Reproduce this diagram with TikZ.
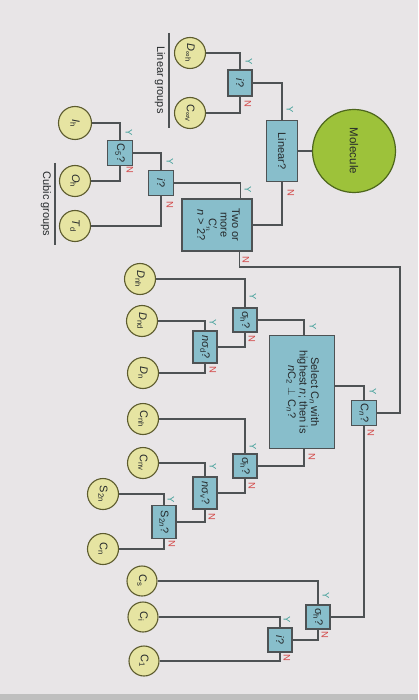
\documentclass[tikz,border=0pt]{standalone}
\usepackage{fontspec}
\setmainfont{Liberation Sans}
\usepackage{graphicx}
\usetikzlibrary{calc}
\definecolor{bg}{HTML}{E8E5E7}
\definecolor{boxblue}{HTML}{88BECB}
\definecolor{edge}{HTML}{4E5254}
\definecolor{circ}{HTML}{E6E4A2}
\definecolor{olivedark}{HTML}{5C5B2E}
\definecolor{molgreen}{HTML}{9DC23A}
\definecolor{molborder}{HTML}{4D661C}
\definecolor{ycol}{HTML}{3E9E98}
\definecolor{ncol}{HTML}{D24848}
\definecolor{txt}{HTML}{25292B}
\newcommand{\rt}[1]{\rotatebox{-90}{#1}}
\newcommand{\ml}[1]{\rotatebox{-90}{\renewcommand{\arraystretch}{0.92}\begin{tabular}{@{}c@{}}#1\end{tabular}}}
\newcommand{\sbx}[1]{\textsubscript{#1}}
\begin{document}
\begin{tikzpicture}[x=1pt,y=-1pt,
  q/.style={draw=edge, fill=boxblue, line width=1.1pt, inner sep=0pt, text=txt, font=\fontsize{11}{12.5}\selectfont},
  grp/.style={circle, draw=olivedark, fill=circ, line width=1.1pt, minimum size=31pt, inner sep=0pt, text=txt, font=\fontsize{11}{12}\selectfont},
  conn/.style={draw=edge, line width=1.2pt},
  yl/.style={text=ycol, font=\fontsize{9.5}{10}\selectfont, rotate=-90, inner sep=0pt},
  nl/.style={text=ncol, font=\fontsize{9.5}{10}\selectfont, rotate=-90, inner sep=0pt},
  glab/.style={text=txt, font=\fontsize{11}{12}\selectfont, rotate=-90, inner sep=0pt}]
\fill[bg] (0,0) rectangle (418,700);
\fill[black!25] (0,694) rectangle (418,700);
\useasboundingbox (0,0) rectangle (418,700);

% nodes
\node[circle, draw=molborder, fill=molgreen, line width=1.2pt, minimum size=83pt, inner sep=0pt, text=txt, font=\fontsize{11.5}{13}\selectfont] (mol) at (354,151) {\rt{Molecule}};
\node[q, minimum width=31pt, minimum height=61pt] (lin) at (282,151) {\rt{Linear?}};
\node[q, minimum width=24pt, minimum height=26pt] (ilin) at (240,83) {\rt{\textit{i}?}};
\node[grp] (dinfh) at (190,53) {\rt{\textit{D}\sbx{∞h}}};
\node[grp] (cinfv) at (190,113) {\rt{C\sbx{∞v}}};
\node[q, minimum width=70pt, minimum height=52pt] (two) at (217,225) {\ml{Two or\\more\\C$'_{n}$\\\textit{n} > 2?}};
\node[q, minimum size=25pt] (icub) at (161,183) {\rt{\textit{i}?}};
\node[q, minimum size=25pt] (c5) at (120,153) {\rt{C\sbx{5}?}};
\node[grp, minimum size=33pt] (ih) at (75,123) {\rt{\textit{I}\sbx{h}}};
\node[grp] (oh) at (75,181) {\rt{\textit{O}\sbx{h}}};
\node[grp] (td) at (75,226) {\rt{\textit{T}\sbx{d}}};
\node[q, minimum size=25pt] (cnq) at (364,413) {\rt{C\sbx{\textit{n}}?}};
\node[q, minimum width=65pt, minimum height=113pt] (sel) at (302,392) {\ml{Select C\sbx{\textit{n}} with\\highest \textit{n}; then is\\\textit{n}C\sbx{2} $\perp$ C\sbx{\textit{n}}?}};
\node[q, minimum size=24pt] (sigd) at (245,320) {\rt{σ\sbx{h}?}};
\node[q, minimum width=24pt, minimum height=32pt] (nsd) at (205,347) {\rt{\textit{n}σ\sbx{d}?}};
\node[grp] (dnh) at (140,279) {\rt{\textit{D}\sbx{nh}}};
\node[grp] (dnd) at (142,321) {\rt{\textit{D}\sbx{nd}}};
\node[grp] (dn) at (143,373) {\rt{\textit{D}\sbx{n}}};
\node[q, minimum size=24pt] (sigc) at (245,466) {\rt{σ\sbx{h}?}};
\node[q, minimum width=24pt, minimum height=32pt] (nsv) at (205,493) {\rt{\textit{n}σ\sbx{v}?}};
\node[grp] (cnh) at (143,419) {\rt{C\sbx{nh}}};
\node[grp] (cnv) at (143,463) {\rt{C\sbx{nv}}};
\node[q, minimum width=24pt, minimum height=33pt] (s2nq) at (164,522) {\rt{S\sbx{2\textit{n}}?}};
\node[grp] (s2n) at (103,494) {\rt{S\sbx{2n}}};
\node[grp] (cn) at (103,549) {\rt{C\sbx{n}}};
\node[q, minimum size=24pt] (sigl) at (318,617) {\rt{σ\sbx{h}?}};
\node[q, minimum size=24pt] (il) at (280,640) {\rt{\textit{i}?}};
\node[grp, minimum size=30pt] (cs) at (142,581) {\rt{C\sbx{s}}};
\node[grp, minimum size=30pt] (ci) at (143,617) {\rt{C\sbx{i}}};
\node[grp, minimum size=30pt] (c1) at (144,661) {\rt{C\sbx{1}}};

% group labels
\node[glab] (lgl) at (160,80) {Linear groups};
\coordinate (lgA) at (169,33); \coordinate (lgB) at (169,128);
\draw[conn] (lgA) -- (lgB);
\node[glab] (cgl) at (46,204) {Cubic groups};
\coordinate (cgA) at (55,163); \coordinate (cgB) at (55,245);
\draw[conn] (cgA) -- (cgB);

% connectors
\draw[conn] (mol) -- (lin);
\draw[conn] (lin.north) |- (ilin);
\draw[conn] (ilin.north) |- (dinfh);
\draw[conn] (ilin.south) |- (cinfv);
\draw[conn] (lin.south) |- (two);
\draw[conn] ($(two.north east)+(-12,0)$) |- (icub);
\draw[conn] (icub.north) |- (c5);
\draw[conn] (icub.south) |- (td);
\draw[conn] (c5.north) |- (ih);
\draw[conn] (c5.south) |- (oh);
\coordinate (bend) at (400,267);
\draw[conn] ($(two.south east)+(-13,0)$) |- (bend) |- (cnq);
\draw[conn] (cnq.north) |- ($(sel.east)+(0,-6)$);
\draw[conn] ($(sel.north)+(2,0)$) |- (sigd);
\draw[conn] ($(sel.south)+(2,0)$) |- (sigc);
\draw[conn] (sigd.north) |- (dnh);
\draw[conn] (sigd.south) |- (nsd);
\draw[conn] (nsd.north) |- (dnd);
\draw[conn] (nsd.south) |- (dn);
\draw[conn] (sigc.north) |- (cnh);
\draw[conn] (sigc.south) |- (nsv);
\draw[conn] (nsv.north) |- (cnv);
\draw[conn] (nsv.south) |- (s2nq);
\draw[conn] (s2nq.north) |- (s2n);
\draw[conn] (s2nq.south) |- (cn);
\draw[conn] (cnq.south) |- (sigl);
\draw[conn] (sigl.north) |- (cs);
\draw[conn] (sigl.south) |- (il);
\draw[conn] (il.north) |- (ci);
\draw[conn] (il.south) |- (c1);

% Y / N labels
\node[yl] (y1) at (290,110) {Y};  \node[nl] (n1) at (291,193) {N};
\node[yl] (y2) at (249,62) {Y};   \node[nl] (n2) at (248,104) {N};
\node[yl] (y3) at (248,190) {Y};  \node[nl] (n3) at (246,260) {N};
\node[yl] (y4) at (170,162) {Y};  \node[nl] (n4) at (170,205) {N};
\node[yl] (y5) at (129,133) {Y};  \node[nl] (n5) at (130,170) {N};
\node[yl] (y6) at (373,392) {Y};  \node[nl] (n6) at (371,433) {N};
\node[yl] (y7) at (313,327) {Y};  \node[nl] (n7) at (312,457) {N};
\node[yl] (y8) at (253,297) {Y};  \node[nl] (n8) at (252,339) {N};
\node[yl] (y9) at (213,323) {Y};  \node[nl] (n9) at (213,370) {N};
\node[yl] (y10) at (253,447) {Y}; \node[nl] (n10) at (252,486) {N};
\node[yl] (y11) at (213,467) {Y}; \node[nl] (n11) at (212,517) {N};
\node[yl] (y12) at (171,500) {Y}; \node[nl] (n12) at (172,544) {N};
\node[yl] (y13) at (326,596) {Y}; \node[nl] (n13) at (325,635) {N};
\node[yl] (y14) at (287,620) {Y}; \node[nl] (n14) at (287,658) {N};
\end{tikzpicture}
\end{document}
